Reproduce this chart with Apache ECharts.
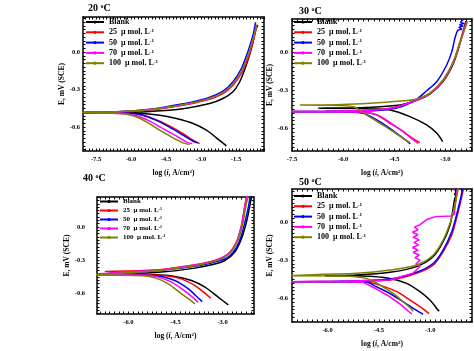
<!DOCTYPE html>
<html><head><meta charset="utf-8">
<script src="https://cdn.jsdelivr.net/npm/echarts@6/dist/echarts.min.js"></script>
<style>html,body{margin:0;padding:0;background:#fff}#c{width:474px;height:351px}</style>
</head><body><div id="c"></div>
<script>
// ---------- DATA (log i, E) ----------
const seriesNames = ['Blank', '25', '50', '70', '100'];
const xTickLabels20 = [-7.5, -6.0, -4.5, -3.0, -1.5];
const xTickLabels30 = [-7.5, -6.0, -4.5, -3.0];
const xTickLabels40 = [-6.0, -4.5, -3.0];
const xTickLabels50 = [-6.0, -4.5, -3.0];
const yTickLabels = [-0.6, -0.3, 0.0];

// 20 °C
const blank20 = [[-1.91,-0.749],[-2.34,-0.685],[-2.77,-0.624],[-3.34,-0.571],[-4.06,-0.531],[-4.77,-0.504],[-5.63,-0.491],[-6.63,-0.488],[-8.3,-0.487],[-6.63,-0.484],[-5.2,-0.474],[-3.77,-0.452],[-2.63,-0.411],[-2.06,-0.371],[-1.63,-0.317],[-1.34,-0.237],[-1.06,-0.104],[-0.84,0.029],[-0.63,0.189],[-0.56,0.216]];
const c25_20 = [[-3.06,-0.731],[-3.34,-0.704],[-3.77,-0.651],[-4.2,-0.605],[-4.77,-0.552],[-5.49,-0.504],[-6.2,-0.487],[-8.3,-0.482],[-6.63,-0.478],[-5.2,-0.462],[-3.77,-0.425],[-2.77,-0.384],[-2.06,-0.331],[-1.63,-0.264],[-1.27,-0.171],[-0.99,-0.051],[-0.77,0.083],[-0.63,0.203]];
const c50_20 = [[-3.13,-0.725],[-3.34,-0.712],[-3.77,-0.664],[-4.2,-0.616],[-4.77,-0.557],[-5.49,-0.504],[-6.2,-0.487],[-8.3,-0.482],[-6.63,-0.477],[-5.2,-0.457],[-3.77,-0.413],[-2.77,-0.371],[-2.06,-0.312],[-1.63,-0.237],[-1.27,-0.131],[-0.99,0.003],[-0.77,0.136],[-0.66,0.237]];
const c70_20 = [[-3.37,-0.733],[-3.63,-0.717],[-4.06,-0.669],[-4.63,-0.611],[-5.2,-0.552],[-5.77,-0.509],[-6.4,-0.49],[-8.3,-0.483],[-6.63,-0.478],[-5.2,-0.46],[-3.77,-0.42],[-2.77,-0.38],[-2.06,-0.325],[-1.63,-0.255],[-1.27,-0.16],[-0.99,-0.035],[-0.77,0.1],[-0.62,0.215]];
const c100_20 = [[-3.49,-0.739],[-3.77,-0.725],[-4.2,-0.685],[-4.77,-0.624],[-5.34,-0.557],[-5.91,-0.509],[-6.5,-0.49],[-8.3,-0.482],[-6.63,-0.476],[-5.2,-0.458],[-3.77,-0.42],[-2.77,-0.378],[-2.06,-0.322],[-1.63,-0.25],[-1.27,-0.155],[-0.99,-0.03],[-0.77,0.105],[-0.6,0.22]];

// 30 °C
const blank30 = [[-3.08,-0.706],[-3.25,-0.640],[-3.55,-0.574],[-4.04,-0.508],[-4.62,-0.456],[-5.3,-0.445],[-6.73,-0.442],[-5.5,-0.438],[-4.33,-0.416],[-3.84,-0.38],[-3.45,-0.33],[-3.06,-0.228],[-2.76,-0.085],[-2.57,0.07],[-2.40,0.242]];
const c25_30 = [[-3.75,-0.713],[-3.94,-0.684],[-4.23,-0.626],[-4.62,-0.561],[-5.01,-0.496],[-5.4,-0.475],[-6.5,-0.47],[-7.8,-0.469],[-6.5,-0.466],[-5.5,-0.46],[-4.62,-0.443],[-3.84,-0.377],[-3.45,-0.324],[-3.06,-0.219],[-2.76,-0.074],[-2.57,0.084],[-2.38,0.242]];
const c50_30 = [[-4.03,-0.724],[-4.13,-0.70],[-4.43,-0.64],[-4.92,-0.548],[-5.41,-0.483],[-6.0,-0.47],[-7.8,-0.469],[-6.5,-0.467],[-5.0,-0.46],[-4.3,-0.43],[-3.84,-0.37],[-3.55,-0.305],[-3.25,-0.232],[-2.96,-0.10],[-2.81,0.005],[-2.72,0.11],[-2.64,0.17],[-2.52,0.18],[-2.60,0.195],[-2.48,0.205],[-2.58,0.215],[-2.46,0.225],[-2.55,0.235],[-2.45,0.26]];
const c70_30 = [[-3.8,-0.72],[-3.95,-0.69],[-4.25,-0.625],[-4.62,-0.555],[-5.0,-0.495],[-5.4,-0.474],[-6.5,-0.47],[-7.8,-0.469],[-6.5,-0.466],[-5.5,-0.46],[-4.62,-0.445],[-3.84,-0.378],[-3.45,-0.326],[-3.06,-0.222],[-2.76,-0.077],[-2.56,0.084],[-2.37,0.242]];
const c100_30 = [[-4.04,-0.711],[-4.13,-0.70],[-4.53,-0.626],[-4.92,-0.561],[-5.31,-0.496],[-5.70,-0.43],[-6.5,-0.418],[-7.27,-0.416],[-6.58,-0.416],[-5.21,-0.403],[-4.23,-0.384],[-3.84,-0.37],[-3.45,-0.322],[-3.06,-0.215],[-2.76,-0.07],[-2.55,0.09],[-2.35,0.242]];

// 40 °C
const blank40 = [[-2.82,-0.703],[-3.14,-0.633],[-3.56,-0.543],[-3.99,-0.483],[-4.52,-0.446],[-5.15,-0.431],[-6.2,-0.428],[-7.2,-0.427],[-6.0,-0.422],[-4.94,-0.407],[-3.88,-0.371],[-3.35,-0.341],[-2.93,-0.302],[-2.61,-0.226],[-2.40,-0.106],[-2.24,0.045],[-2.13,0.196],[-2.08,0.28]];
const c25_40 = [[-3.37,-0.643],[-3.6,-0.59],[-3.88,-0.528],[-4.31,-0.468],[-4.62,-0.446],[-4.94,-0.437],[-5.8,-0.425],[-6.75,-0.40],[-6.0,-0.398],[-4.94,-0.383],[-3.88,-0.341],[-3.25,-0.302],[-2.82,-0.241],[-2.56,-0.136],[-2.40,0.015],[-2.29,0.196],[-2.24,0.28]];
const c50_40 = [[-3.65,-0.673],[-3.85,-0.62],[-4.09,-0.558],[-4.52,-0.483],[-4.94,-0.446],[-5.26,-0.437],[-6.2,-0.43],[-7.2,-0.428],[-6.0,-0.41],[-4.94,-0.39],[-3.88,-0.353],[-3.3,-0.32],[-2.82,-0.271],[-2.55,-0.18],[-2.40,-0.075],[-2.19,0.166],[-2.12,0.28]];
const c70_40 = [[-3.78,-0.679],[-3.95,-0.635],[-4.2,-0.579],[-4.62,-0.498],[-5.05,-0.452],[-5.36,-0.437],[-6.2,-0.43],[-7.2,-0.428],[-6.0,-0.405],[-4.94,-0.385],[-3.88,-0.343],[-3.25,-0.303],[-2.82,-0.243],[-2.56,-0.14],[-2.40,0.01],[-2.28,0.2],[-2.22,0.28]];
const c100_40 = [[-3.88,-0.694],[-4.05,-0.655],[-4.31,-0.603],[-4.73,-0.513],[-5.15,-0.459],[-5.58,-0.440],[-6.3,-0.435],[-7.2,-0.434],[-6.0,-0.412],[-4.94,-0.39],[-3.88,-0.35],[-3.25,-0.308],[-2.82,-0.25],[-2.56,-0.15],[-2.38,0.0],[-2.25,0.2],[-2.18,0.28]];

// 50 °C
const blank50 = [[-2.74,-0.703],[-2.81,-0.681],[-3.01,-0.615],[-3.30,-0.549],[-3.69,-0.483],[-4.18,-0.444],[-5.0,-0.426],[-6.08,-0.423],[-5.15,-0.417],[-4.18,-0.396],[-3.40,-0.351],[-2.91,-0.272],[-2.62,-0.153],[-2.42,-0.021],[-2.33,0.111],[-2.28,0.19],[-2.24,0.205],[-2.29,0.22],[-2.25,0.235],[-2.27,0.25],[-2.22,0.27]];
const c25_50 = [[-3.03,-0.721],[-3.06,-0.716],[-3.25,-0.676],[-3.59,-0.615],[-3.98,-0.549],[-4.47,-0.497],[-4.86,-0.472],[-5.6,-0.47],[-7.3,-0.47],[-5.6,-0.468],[-4.18,-0.457],[-3.40,-0.404],[-2.91,-0.338],[-2.62,-0.232],[-2.37,-0.1],[-2.23,0.032],[-2.11,0.164],[-2.03,0.265]];
const c50_50 = [[-3.21,-0.727],[-3.45,-0.689],[-3.79,-0.629],[-4.18,-0.563],[-4.57,-0.51],[-4.86,-0.475],[-5.6,-0.47],[-7.3,-0.47],[-5.6,-0.467],[-4.18,-0.449],[-3.40,-0.396],[-2.91,-0.325],[-2.62,-0.219],[-2.37,-0.074],[-2.23,0.058],[-2.11,0.19],[-2.05,0.265]];
const c70_50 = [[-3.54,-0.724],[-3.64,-0.703],[-3.84,-0.655],[-4.18,-0.589],[-4.57,-0.528],[-4.96,-0.475],[-5.6,-0.47],[-7.3,-0.47],[-5.6,-0.467],[-4.18,-0.457],[-3.50,-0.404],[-3.38,-0.37],[-3.30,-0.35],[-3.42,-0.33],[-3.30,-0.30],[-3.45,-0.28],[-3.32,-0.26],[-3.50,-0.24],[-3.36,-0.22],[-3.52,-0.20],[-3.34,-0.18],[-3.48,-0.16],[-3.32,-0.14],[-3.50,-0.12],[-3.36,-0.10],[-3.52,-0.08],[-3.36,-0.06],[-3.46,-0.04],[-3.30,-0.02],[-3.20,0.0],[-3.10,0.02],[-2.95,0.035],[-2.80,0.045],[-2.60,0.046],[-2.40,0.048],[-2.30,0.06],[-2.26,0.15],[-2.21,0.265]];
const c100_50 = [[-3.50,-0.703],[-3.59,-0.676],[-3.79,-0.629],[-4.08,-0.563],[-4.47,-0.497],[-4.86,-0.444],[-5.6,-0.425],[-7.3,-0.423],[-6.13,-0.412],[-5.15,-0.404],[-4.18,-0.378],[-3.40,-0.338],[-2.91,-0.259],[-2.62,-0.140],[-2.42,-0.008],[-2.28,0.137],[-2.18,0.265]];

// ---------- LAYOUT ----------
const F = 'Liberation Serif';
const colors = ['#000000', '#ff0000', '#0000ff', '#ff00ff', '#808000'];
const panels = [
  {t:'20', curves:[blank20,c25_20,c50_20,c70_20,c100_20], grid:{left:83,top:17,width:181,height:134}, x:[-8.06,-0.30], y:[-0.79,0.28], xt:xTickLabels20, ylm:3, title:[88,3], leg:[85,18], fs:8},
  {t:'30', curves:[blank30,c25_30,c50_30,c70_30,c100_30], grid:{left:292,top:19,width:180,height:132}, x:[-7.5,-2.22], y:[-0.779,0.26], xt:xTickLabels30, ylm:4, title:[299,6], leg:[293,18], fs:8},
  {t:'40', curves:[blank40,c25_40,c50_40,c70_40,c100_40], grid:{left:97,top:197,width:157,height:117}, x:[-7.0,-2.0], y:[-0.785,0.271], xt:xTickLabels40, ylm:12, title:[83,173], leg:[99,198], fs:7},
  {t:'50', curves:[blank50,c25_50,c50_50,c70_50,c100_50], grid:{left:292,top:189,width:180,height:133}, x:[-7.04,-1.78], y:[-0.788,0.261], xt:xTickLabels50, ylm:4, title:[299,177], leg:[293,192], fs:8}
];

function steps(min, max, step){
  const out=[]; let k=Math.ceil(min/step-1e-9);
  for(;k*step<=max+1e-9;k++) out.push(+(k*step).toFixed(4));
  return out;
}
const lineSt = {color:'#000', width:1.5};
const xAxes=[], yAxes=[], series=[], legends=[], titles=[], grids=[];
panels.forEach((p,i)=>{
  grids.push(Object.assign({containLabel:false}, p.grid));
  const xMinor = steps(p.x[0], p.x[1], 0.15);
  const yMinor = steps(p.y[0], p.y[1], 0.03);
  const tick = (vals)=>({show:true, inside:true, length:2.5, customValues:vals, lineStyle:{color:'#000', width:1}});
  xAxes.push({type:'value', gridIndex:i, position:'bottom', min:p.x[0], max:p.x[1],
    axisLine:{show:true,onZero:false,lineStyle:lineSt}, axisTick:tick(xMinor), splitLine:{show:false},
    axisLabel:{customValues:p.xt, formatter:v=>v.toFixed(1), fontSize:6.5, fontWeight:'bold', fontFamily:F, color:'#000', margin:5},
    name:'log ({i|i}, A/cm{s|2})', nameLocation:'middle', nameGap:18,
    nameTextStyle:{fontSize:7.5, fontWeight:'bold', fontFamily:F, color:'#000',
      rich:{i:{fontSize:7.5,fontWeight:'bold',fontStyle:'italic',fontFamily:F,color:'#000'}, s:{fontSize:5,fontWeight:'bold',fontFamily:F,color:'#000',verticalAlign:'top'}}}});
  xAxes.push({type:'value', gridIndex:i, position:'top', min:p.x[0], max:p.x[1],
    axisLine:{show:true,onZero:false,lineStyle:lineSt}, axisTick:tick(xMinor), axisLabel:{show:false}, splitLine:{show:false}});
  yAxes.push({type:'value', gridIndex:i, position:'left', min:p.y[0], max:p.y[1],
    axisLine:{show:true,onZero:false,lineStyle:lineSt}, axisTick:tick(yMinor), splitLine:{show:false},
    axisLabel:{customValues:yTickLabels, formatter:v=>v.toFixed(1), fontSize:6.5, fontWeight:'bold', fontFamily:F, color:'#000', margin:p.ylm},
    name:'E, mV (SCE)', nameLocation:'middle', nameGap:p.ylm+13, nameRotate:90,
    nameTextStyle:{fontSize:7.5, fontWeight:'bold', fontFamily:F, color:'#000'}});
  yAxes.push({type:'value', gridIndex:i, position:'right', min:p.y[0], max:p.y[1],
    axisLine:{show:true,onZero:false,lineStyle:lineSt}, axisTick:tick(yMinor), axisLabel:{show:false}, splitLine:{show:false}});
  p.curves.forEach((d,k)=>{
    series.push({type:'line', name:seriesNames[k], xAxisIndex:2*i, yAxisIndex:2*i, data:d,
      showSymbol:false, symbol:'circle', symbolSize:3, smooth:(i===3&&k===3)?false:0.3,
      lineStyle:{width:1.5,color:colors[k]}, itemStyle:{color:colors[k]}, clip:true, silent:true});
  });
  legends.push({data:seriesNames, orient:'vertical', left:p.leg[0], top:p.leg[1], padding:0,
    itemWidth:18, itemHeight:4, itemGap:p.fs===7?2:2.3, selectedMode:false,
    formatter:n=> n==='Blank' ? 'Blank' : n+'  μ mol. L{s|-1}',
    textStyle:{fontSize:p.fs, fontWeight:'bold', fontFamily:F, color:'#000', lineHeight:p.fs===7?7:8,
      rich:{s:{fontSize:p.fs-3, fontWeight:'bold', fontFamily:F, color:'#000', verticalAlign:'top'}}}});
  titles.push({text:p.t+' {s|o}C', left:p.title[0], top:p.title[1], padding:0,
    textStyle:{fontSize:10, fontWeight:'bold', fontFamily:F, color:'#000',
      rich:{s:{fontSize:6, fontWeight:'bold', fontFamily:F, color:'#000', verticalAlign:'top'}}}});
});

const chart = echarts.init(document.getElementById('c'), null, {renderer:'canvas'});
chart.setOption({backgroundColor:'#fff', animation:false, title:titles, grid:grids, xAxis:xAxes, yAxis:yAxes, legend:legends, series:series});
</script></body></html>
